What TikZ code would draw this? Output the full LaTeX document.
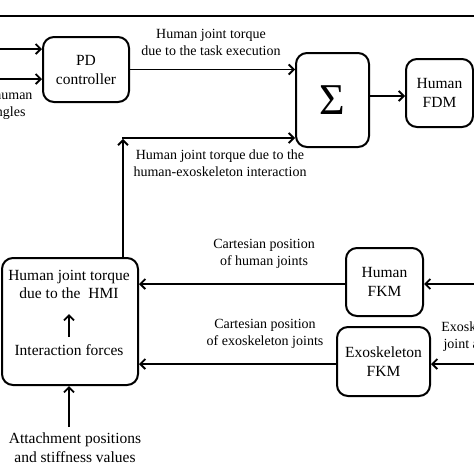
\documentclass[tikz,border=0pt]{standalone}
\usepackage{fontspec}
\setmainfont{Liberation Serif}
\usetikzlibrary{arrows.meta}
\begin{document}
\begin{tikzpicture}[x=1pt,y=-1pt,
  blk/.style={draw, line width=2pt, rounded corners=11pt, align=center, inner sep=0pt,
    font=\fontsize{15.5}{19}\selectfont},
  lbl/.style={align=center, inner sep=0pt, font=\fontsize{14}{17}\selectfont},
  conn/.style={line width=1.9pt, -{Straight Barb[length=5pt,width=10pt,line width=1.9pt]}},
  plain/.style={line width=1.9pt}]
\useasboundingbox (0,0) rectangle (474,474);
\clip (0,0) rectangle (474,474);
% boxes
\node[blk, minimum width=86pt, minimum height=65pt] (pd) at (86,69.5) {PD\\controller};
\node[blk, minimum width=73pt, minimum height=94pt] (sig) at (332.5,100) {\fontsize{44}{44}\selectfont Σ};
\node[blk, minimum width=67pt, minimum height=68pt] (fdm) at (439.5,93) {Human\\FDM};
\node[blk, minimum width=77pt, minimum height=68pt] (hfkm) at (384.5,282) {Human\\FKM};
\node[blk, minimum width=93pt, minimum height=69pt] (efkm) at (383.5,361.5) {Exoskeleton\\FKM};
\node[blk, minimum width=136pt, minimum height=127pt] (hmi) at (70,321.5) {};
\node[lbl, font=\fontsize{15.5}{18}\selectfont] (hmitop) at (69,284) {Human joint torque\\due to the\ \ HMI};
\node[lbl, font=\fontsize{15.5}{18}\selectfont] (hmibot) at (69,350) {Interaction forces};
% coordinates
\coordinate (topl) at (0,16);
\coordinate (topr) at (474,16);
\coordinate (in1) at (0,49);
\coordinate (in2) at (0,79);
\coordinate (corner) at (123,138);
\coordinate (hin) at (474,284);
\coordinate (ein) at (474,364);
\coordinate (att) at (69,427);
\coordinate (fa) at (69,337);
\coordinate (fb) at (69,314);
% labels
\node[lbl] (l1) at (211,42.5) {Human joint torque\\due to the task execution};
\node[lbl] (l2) at (220,163) {Human joint torque due to the\\human-exoskeleton interaction};
\node[lbl] (l3) at (264,254) {Cartesian position\\of human joints};
\node[lbl] (l4) at (265,333.5) {Cartesian position\\of exoskeleton joints};
\node[lbl] (l5) at (476,337) {Exoskeleton\\joint angles};
\node[lbl] (l6) at (-7,105) {Actual human\\joint angles};
\node[lbl, font=\fontsize{15.5}{18.5}\selectfont] (l7) at (75,447.5) {Attachment positions\\and stiffness values};
% connectors
\draw[plain] (topl) -- (topr);
\draw[conn] (in1) -- (in1 -| pd.west);
\draw[conn] (in2) -- (in2 -| pd.west);
\draw[conn] (pd.east) -- (pd.east -| sig.west);
\draw[conn] (sig.east |- 0,96) -- (fdm.west |- 0,96);
\draw[conn] (corner |- hmi.north) -- ([yshift=-0.9pt]corner);
\draw[conn] ([xshift=-0.9pt]corner) -- (corner -| sig.west);
\draw[conn] (hfkm.west |- hin) -- (hmi.east |- hin);
\draw[conn] (hin) -- (hfkm.east |- hin);
\draw[conn] (efkm.west |- ein) -- (hmi.east |- ein);
\draw[conn] (ein) -- (efkm.east |- ein);
\draw[conn] (att) -- (att |- hmi.south);
\draw[conn] (fa) -- (fb);
\end{tikzpicture}
\end{document}
